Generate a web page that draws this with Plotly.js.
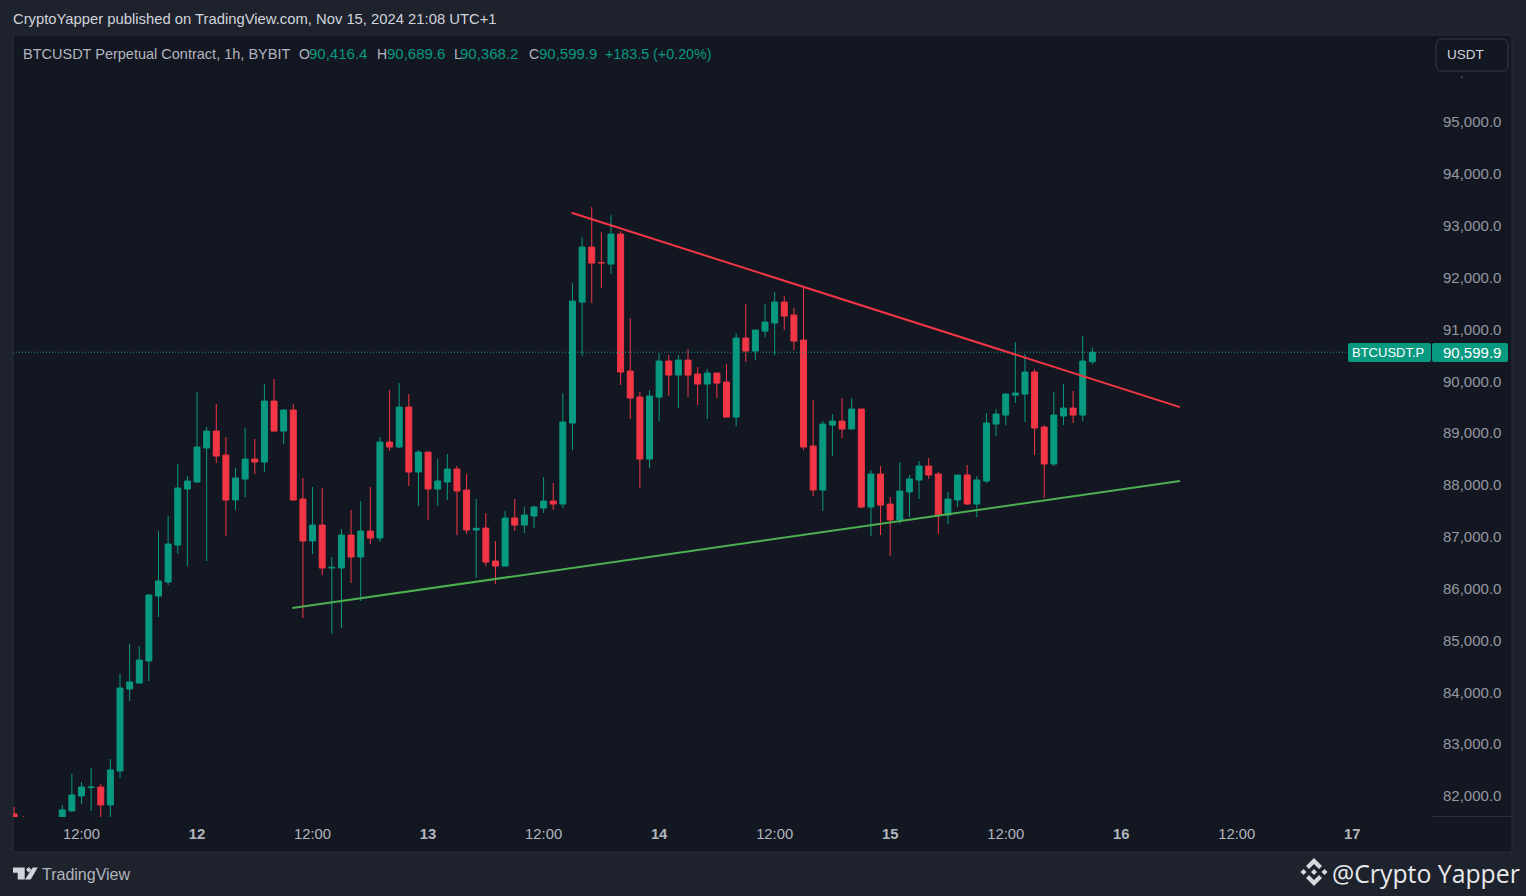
<!DOCTYPE html>
<html><head><meta charset="utf-8">
<script src="https://cdn.plot.ly/plotly-3.0.1.min.js"></script>
<style>html,body{margin:0;padding:0;background:#1e222d;overflow:hidden}#c{width:1526px;height:896px}</style>
</head><body><div id="c"></div>
<script>
// hours since 2024-11-11 00:00 (UTC+1)
const hours = [5,6,10,11,12,13,14,15,16,17,18,19,20,21,22,23,24,25,26,27,28,29,30,31,32,33,34,35,36,37,38,39,40,41,42,43,44,45,46,47,48,49,50,51,52,53,54,55,56,57,58,59,60,61,62,63,64,65,66,67,68,69,70,71,72,73,74,75,76,77,78,79,80,81,82,83,84,85,86,87,88,89,90,91,92,93,94,95,96,97,98,99,100,101,102,103,104,105,106,107,108,109,110,111,112,113,114,115,116,117];
const opens = [81691,81500,81550,81749,82039,82200,82212,81865,82521,84103,84218,84643,85897,86167,86880,87961,88096,88752,89079,88616,87748,88154,88539,88481,89658,89079,89485,87768,86958,87266,86437,86437,87073,86649,87150,87015,88867,88771,89542,88289,88674,87961,88096,88346,87941,87170,87208,86572,86475,87401,87266,87440,87594,87729,87671,89234,91568,92629,92330,92301,92880,90237,89735,88539,89735,90430,90160,90449,90179,89986,90198,90025,89349,90873,90623,91008,91163,91568,91317,90835,88790,87941,89195,89272,89118,89504,87613,88250,87671,87363,87903,88134,88404,88250,87459,87748,88231,87671,88115,89214,89388,89774,89793,90218,89157,88443,89369,89523,89388,90416.4];
const highs = [81826,81653,81865,82463,82309,82579,82270,82752,84392,84971,84932,85935,87150,87440,88443,88211,89832,89157,89600,88964,88366,89137,88925,89986,90083,89504,89600,88173,87999,87980,86649,87189,87556,87729,87999,88964,89870,90005,89793,88713,88674,88539,88636,88404,88250,87768,87498,86958,87536,87768,87613,87633,88192,88076,89812,91934,92822,93400,92918,93246,92937,91259,89832,89870,90584,90545,90545,90661,90314,90275,90198,90372,90970,91529,91028,91529,91761,91684,91452,91876,89677,89272,89407,89716,89716,89504,88327,88404,87806,88481,88231,88501,88559,88289,87903,88231,88424,88211,89427,89504,89812,90796,90565,90275,89195,89832,89986,89851,90912,90689.6];
const lows = [81400,81350,81500,81730,81884,81749,81500,81500,82386,83871,84218,84257,85491,86109,86707,86475,88096,86572,88462,87054,87556,87806,88250,88289,89079,88829,87748,85472,86707,86302,85164,85279,86147,85800,86900,86938,88694,88752,88018,87633,87363,87633,87748,87073,87093,86244,86475,86128,86475,87150,87112,87208,87498,87556,87594,88713,90526,91549,91838,92108,89967,89311,87980,88366,89272,89755,89523,89735,89581,89311,89716,89349,89176,90410,90449,90893,90545,91028,90642,88713,87826,87536,88597,88944,89118,87594,87054,87073,86668,87285,87420,87768,88154,87093,87285,87613,87652,87420,88076,88983,89195,89620,89253,88616,87787,88404,89195,89234,89272,90368.2];
const closes = [81450,81400,81769,82058,82212,82210,81865,82540,84122,84238,84662,85916,86186,86900,87980,88115,88771,89079,88597,87748,88173,88539,88481,89658,89079,89485,87748,86958,87266,86437,86450,87073,86649,87150,87015,88867,88771,89542,88289,88674,87961,88115,88346,87922,87170,87202,86552,86475,87401,87266,87459,87613,87729,87671,89253,91587,92629,92320,92325,92880,90218,89716,88539,89755,90430,90160,90449,90160,89986,90198,90005,89349,90873,90623,91028,91182,91568,91298,90816,88771,87941,89214,89272,89118,89504,87613,88250,87652,87363,87922,88154,88404,88231,87459,87768,88231,87671,88134,89234,89407,89793,89812,90218,89137,88443,89388,89523,89388,90430,90599.9];

const yTicks = [82000,83000,84000,85000,86000,87000,88000,89000,90000,91000,92000,93000,94000,95000,96000];
const xTickHours = [12,24,36,48,60,72,84,96,108,120,132,144];
const xTickLabels = ['12:00','<b>12</b>','12:00','<b>13</b>','12:00','<b>14</b>','12:00','<b>15</b>','12:00','<b>16</b>','12:00','<b>17</b>'];

const resistanceHours = [62.9,126.1];
const resistancePrices = [93291,89542];
const supportHours = [33.9,126.1];
const supportPrices = [85665,88115];
const priceLineHours = [4.885,143.6];
const lastPrice = 90599.9;

const UP='#089981', DOWN='#f23645', BG='#131722', PAGE='#1e222d', BORDER='#2a2e39';
const FONT='"Liberation Sans", sans-serif';

const L=13,R=1432,T=35,B=817;
const fx=p=>(p-L)/(R-L), fy=p=>1-(p-T)/(B-T);
const poly=pts=>'M'+pts.map(p=>fx(p[0])+','+fy(p[1])).join('L')+'Z';
function rr(x0,y0,x1,y1,r){const P=(x,y)=>fx(x)+','+fy(y);
  return 'M'+P(x0+r,y0)+'L'+P(x1-r,y0)+'Q'+P(x1,y0)+' '+P(x1,y0+r)+'L'+P(x1,y1-r)+'Q'+P(x1,y1)+' '+P(x1-r,y1)+'L'+P(x0+r,y1)+'Q'+P(x0,y1)+' '+P(x0,y1-r)+'L'+P(x0,y0+r)+'Q'+P(x0,y0)+' '+P(x0+r,y0)+'Z';}
const pshape=(path,fill,line,layer)=>({type:'path',xref:'paper',yref:'paper',path,fillcolor:fill,line:{color:line||fill,width:line?1:0},layer:layer||'above'});
const cross=(cx,cy,h)=>poly([[cx,cy-h],[cx+h,cy],[cx,cy+h],[cx-h,cy]]);
const BX=1314,BY=872,LOGO='#d8d9dc';
const shapes=[
 pshape(poly([[13,35],[1512,35],[1512,852],[13,852]]),BG,BORDER,'below'),
 {type:'line',xref:'paper',yref:'paper',x0:fx(1432),x1:fx(1512),y0:fy(816.5),y1:fy(816.5),line:{color:BORDER,width:1},layer:'above'},
 pshape(poly([[1433,38],[1510,38],[1510,76.5],[1433,76.5]]),BG),
 pshape(rr(1436,39,1508,71,6),BG,'#363a45'),
 pshape(rr(1348,343,1431,362,2),UP),
 pshape(rr(1432,343,1508,362,2),UP),
 pshape(poly([[13,867.5],[24.7,867.5],[24.7,879.5],[17.7,879.5],[17.7,872.7],[13,872.7]]),'#d1d4dc'),
 pshape(cross(28.7,869.8,2.7),'#d1d4dc'),
 pshape(poly([[32.7,867.5],[37.7,867.5],[30.7,879.5],[25,879.5]]),'#d1d4dc'),
 pshape(cross(BX,BY,3),LOGO),
 pshape(cross(BX-10.5,BY,3),LOGO),
 pshape(cross(BX+10.5,BY,3),LOGO),
 pshape(poly([[BX,BY-14],[BX+8,BY-6],[BX+5,BY-3],[BX,BY-8],[BX-5,BY-3],[BX-8,BY-6]]),LOGO),
 pshape(poly([[BX,BY+14],[BX+8,BY+6],[BX+5,BY+3],[BX,BY+8],[BX-5,BY+3],[BX-8,BY+6]]),LOGO)
];
const fmt=v=>v.toLocaleString('en-US',{minimumFractionDigits:1,maximumFractionDigits:1});
const n=closes.length-1;
const ann=(px,py,text,size,color,extra)=>Object.assign({xref:'paper',yref:'paper',x:fx(px),y:fy(py),xanchor:'left',yanchor:'middle',showarrow:false,text,font:{family:FONT,size,color},borderpad:0,borderwidth:0},extra||{});
const annotations=[
 ann(13,19.5,'CryptoYapper published on TradingView.com, Nov 15, 2024 21:08 UTC+1',14.8,'#d1d4dc'),
 ann(23,53.5,'BTCUSDT Perpetual Contract, 1h, BYBIT',14.5,'#b2b5be'),
 ann(299,53.5,'O',14,'#b2b5be'), ann(309,53.5,fmt(opens[n]),15,UP),
 ann(377,53.5,'H',14,'#b2b5be'), ann(387,53.5,fmt(highs[n]),15,UP),
 ann(454,53.5,'L',14,'#b2b5be'), ann(460,53.5,fmt(lows[n]),15,UP),
 ann(529,53.5,'C',14,'#b2b5be'), ann(539,53.5,fmt(closes[n]),15,UP),
 ann(605,53.5,'+183.5 (+0.20%)',14.3,UP),
 ann(1447,54.5,'USDT',13.5,'#d1d4dc'),
 ann(1352,352.5,'BTCUSDT.P',13,'#ffffff'),
 ann(1443,352.5,fmt(lastPrice),15,'#ffffff'),
 ann(42,874.5,'TradingView',16,'#b2b5be'),
 ann(1332,872.5,'@Crypto Yapper',24.8,'#e8e9eb',{font:{family:'"Open Sans", sans-serif',size:24.8,color:'#e8e9eb'}})
];
const traces=[
 {type:'scatter',mode:'lines',x:priceLineHours,y:[lastPrice,lastPrice],line:{color:UP,width:1,dash:'1px,2px'},hoverinfo:'skip'},
 {type:'candlestick',x:hours,open:opens,high:highs,low:lows,close:closes,whiskerwidth:0,
  increasing:{line:{color:UP,width:1},fillcolor:UP},decreasing:{line:{color:DOWN,width:1},fillcolor:DOWN},hoverinfo:'skip'},
 {type:'scatter',mode:'lines',x:supportHours,y:supportPrices,line:{color:'#4caf50',width:2},hoverinfo:'skip'},
 {type:'scatter',mode:'lines',x:resistanceHours,y:resistancePrices,line:{color:DOWN,width:2},hoverinfo:'skip'}
];
const layout={width:1526,height:896,showlegend:false,hovermode:false,dragmode:false,boxgap:0.15,boxgroupgap:0.27,
 paper_bgcolor:PAGE,plot_bgcolor:'rgba(0,0,0,0)',
 margin:{l:L,r:1526-R,t:T,b:896-B,pad:0},font:{family:FONT},
 xaxis:{range:[4.885,152.28],tickmode:'array',tickvals:xTickHours,ticktext:xTickLabels,showgrid:false,zeroline:false,showline:false,ticks:'',ticklabelstandoff:6,
   tickfont:{family:FONT,size:14.8,color:'#b2b5be'},rangeslider:{visible:false},fixedrange:true},
 yaxis:{range:[81633,96721],side:'right',tickmode:'array',tickvals:yTicks,tickformat:',.1f',showgrid:false,zeroline:false,showline:false,ticks:'',ticklabelstandoff:10,ticklabelshift:-2,
   tickfont:{family:FONT,size:15,color:'#9598a1'},fixedrange:true},
 shapes,annotations};
Plotly.newPlot('c',traces,layout,{displayModeBar:false,staticPlot:true});
</script></body></html>
